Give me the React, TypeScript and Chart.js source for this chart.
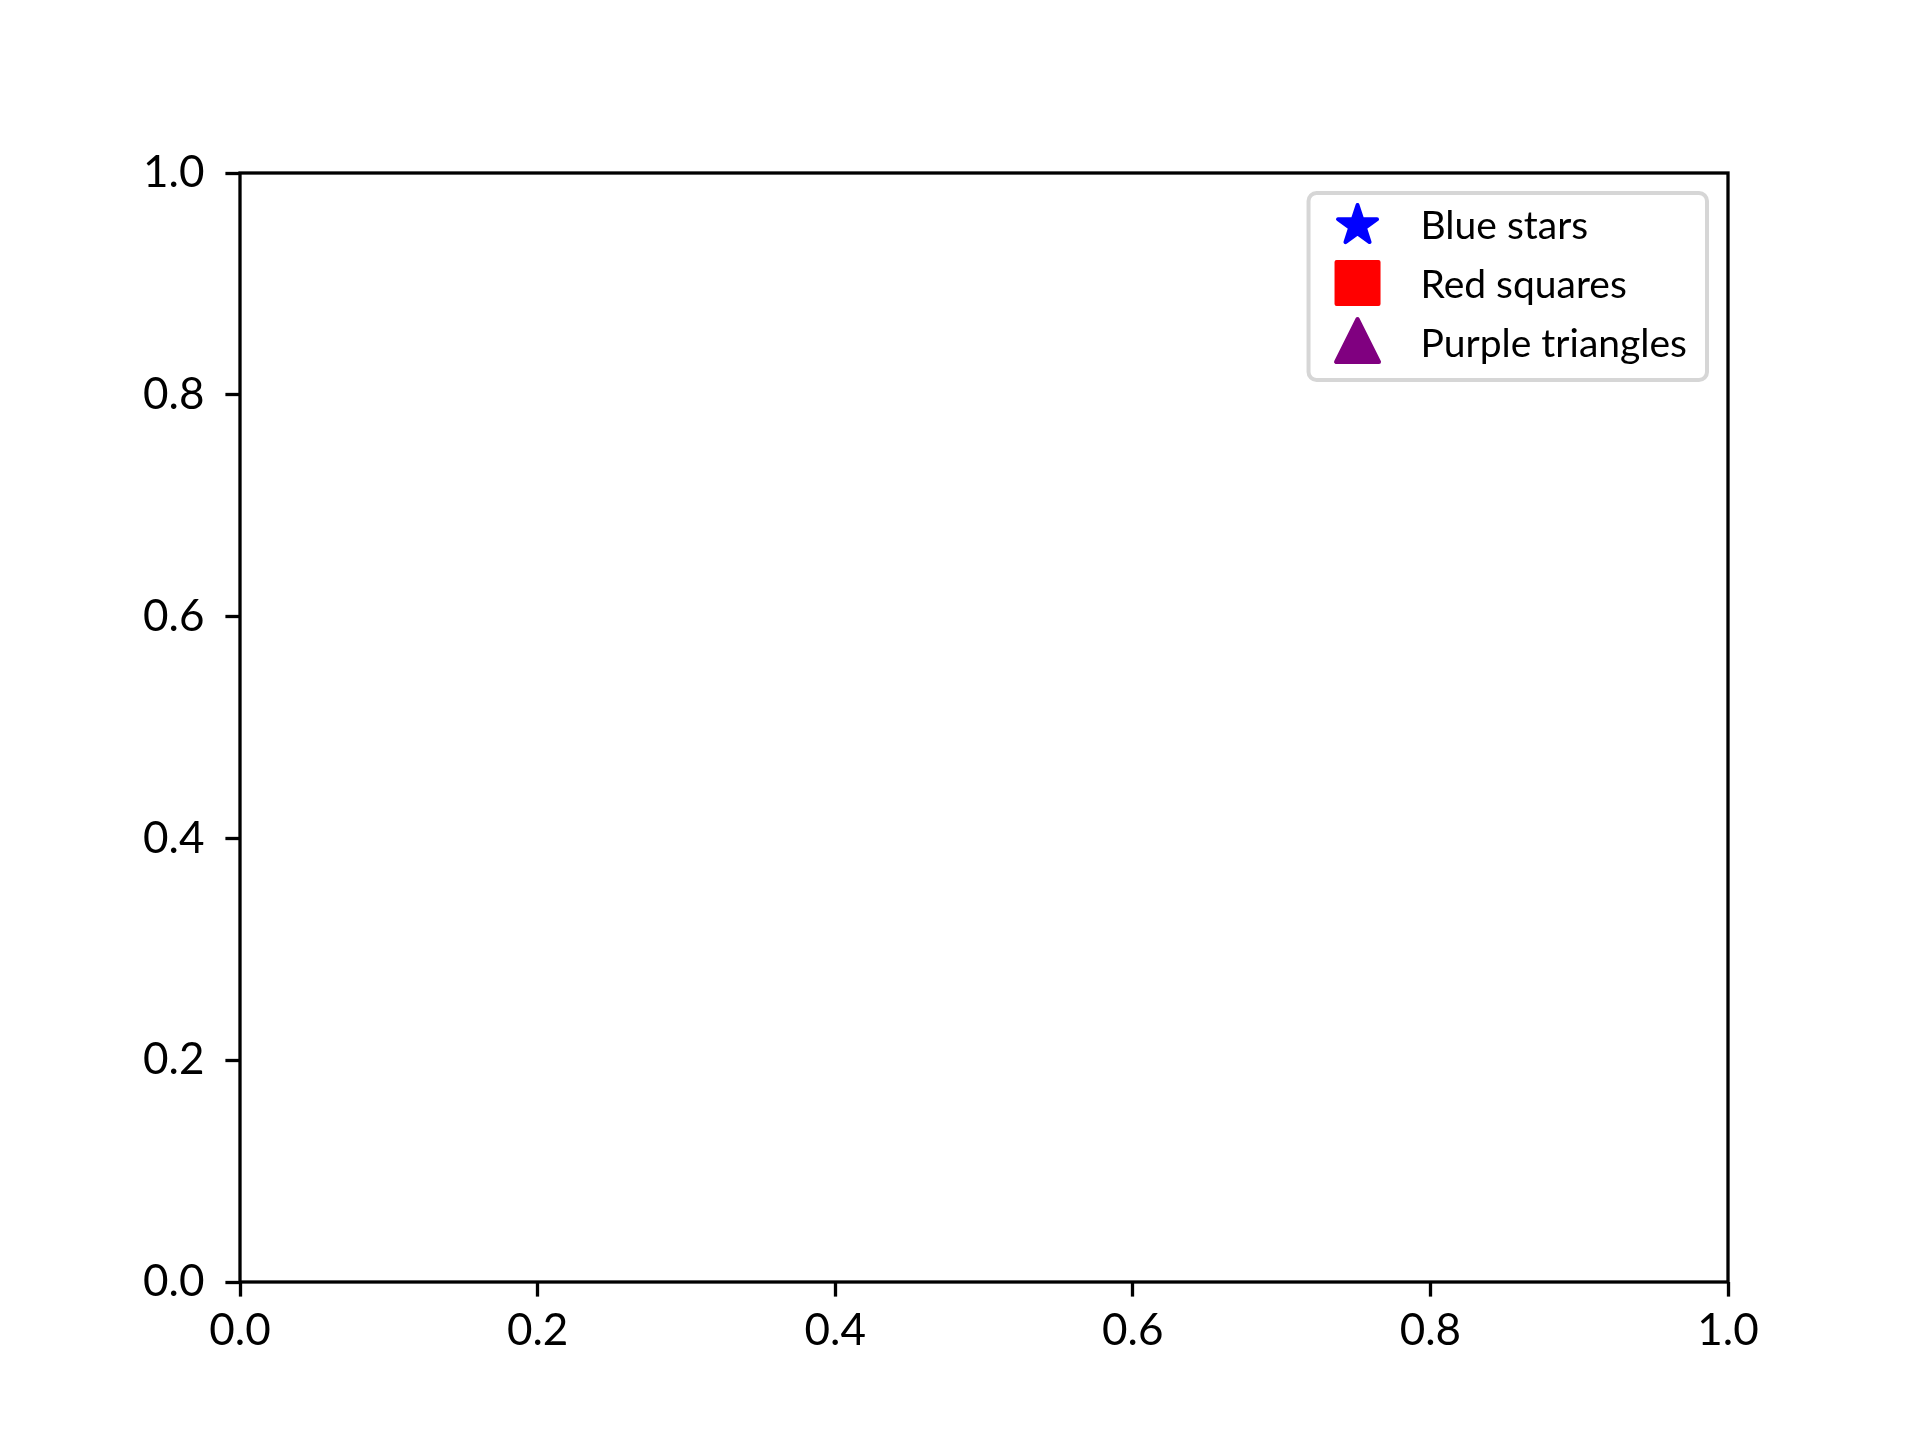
import React, { useEffect, useRef } from "react";
import { Chart, registerables, Plugin } from "chart.js";

Chart.register(...registerables);

// legend entries (the plot itself holds no points)
const seriesLabels = ["Blue stars", "Red squares", "Purple triangles"];
const seriesColors = ["#0000ff", "#ff0000", "#800080"];
const seriesMarkers = ["star", "rect", "triangle"];
const seriesValues: { x: number; y: number }[][] = [[], [], []];

const tickValues = [0, 0.2, 0.4, 0.6, 0.8, 1.0];

const FONT = "Lato, 'DejaVu Sans', sans-serif";

function drawMarker(ctx: CanvasRenderingContext2D, kind: string, cx: number, cy: number, color: string) {
  ctx.save();
  ctx.fillStyle = color;
  ctx.strokeStyle = color;
  ctx.lineWidth = 4;
  ctx.lineJoin = "round";
  ctx.beginPath();
  if (kind === "star") {
    const R = 20.5;
    const r = R * 0.381966;
    for (let i = 0; i < 10; i++) {
      const rad = i % 2 === 0 ? R : r;
      const a = -Math.PI / 2 + (i * Math.PI) / 5;
      const px = cx + rad * Math.cos(a);
      const py = cy + rad * Math.sin(a);
      if (i === 0) ctx.moveTo(px, py);
      else ctx.lineTo(px, py);
    }
  } else if (kind === "rect") {
    const h = 21;
    ctx.rect(cx - h, cy - h, 2 * h, 2 * h);
  } else {
    const h = 21.5;
    ctx.moveTo(cx, cy - h);
    ctx.lineTo(cx - h, cy + h);
    ctx.lineTo(cx + h, cy + h);
  }
  ctx.closePath();
  ctx.fill();
  ctx.stroke();
  ctx.restore();
}

// axes box + legend drawn inside the plot area, like matplotlib
const framePlugin: Plugin = {
  id: "frame",
  afterDraw(chart) {
    const { ctx, chartArea } = chart;
    ctx.save();
    ctx.strokeStyle = "#000";
    ctx.lineWidth = 3.3;
    ctx.strokeRect(chartArea.left, chartArea.top, chartArea.right - chartArea.left, chartArea.bottom - chartArea.top);

    ctx.font = `39px ${FONT}`;
    const labels = chart.data.datasets.map((d) => String(d.label));
    const maxW = Math.max(...labels.map((l) => ctx.measureText(l).width));
    const boxW = 112 + maxW + 20;
    const boxH = 187;
    const right = chartArea.right - 21;
    const top = chartArea.top + 20;
    const left = right - boxW;

    ctx.beginPath();
    ctx.roundRect(left, top, boxW, boxH, 8);
    ctx.fillStyle = "rgba(255,255,255,0.8)";
    ctx.fill();
    ctx.lineWidth = 4;
    ctx.strokeStyle = "#d6d6d6";
    ctx.stroke();

    chart.data.datasets.forEach((d, i) => {
      const cy = top + 32.5 + i * 57.5;
      drawMarker(ctx, seriesMarkers[i], left + 49, cy, seriesColors[i]);
      ctx.fillStyle = "#000";
      ctx.textAlign = "left";
      ctx.textBaseline = "alphabetic";
      ctx.fillText(String(d.label), left + 112, top + 46 + i * 59);
    });
    ctx.restore();
  },
};

const App: React.FC = () => {
  const canvasRef = useRef<HTMLCanvasElement>(null);

  useEffect(() => {
    if (!canvasRef.current) return;
    const tickFont = { family: FONT, size: 44 };

    const chart = new Chart(canvasRef.current, {
      type: "scatter",
      data: {
        datasets: seriesLabels.map((label, i) => ({
          label,
          data: seriesValues[i],
          backgroundColor: seriesColors[i],
          borderColor: seriesColors[i],
        })),
      },
      options: {
        responsive: false,
        animation: false,
        devicePixelRatio: 1,
        layout: { padding: { top: 173, right: 192, left: 0, bottom: 0 } },
        plugins: { legend: { display: false }, tooltip: { enabled: false } },
        scales: {
          x: {
            type: "linear",
            min: 0,
            max: 1,
            afterBuildTicks: (scale) => {
              scale.ticks = tickValues.map((v) => ({ value: v }));
            },
            afterFit: (scale) => {
              scale.height = 158;
            },
            border: { display: false },
            grid: {
              drawOnChartArea: false,
              drawTicks: true,
              tickLength: 14.6,
              tickWidth: 3.3,
              tickColor: "#000",
            },
            ticks: {
              autoSkip: false,
              maxRotation: 0,
              padding: 8,
              color: "#000",
              font: tickFont,
              callback: (v) => Number(v).toFixed(1),
            },
          },
          y: {
            type: "linear",
            min: 0,
            max: 1,
            afterBuildTicks: (scale) => {
              scale.ticks = tickValues.map((v) => ({ value: v }));
            },
            afterFit: (scale) => {
              scale.width = 240;
            },
            border: { display: false },
            grid: {
              drawOnChartArea: false,
              drawTicks: true,
              tickLength: 14.6,
              tickWidth: 3.3,
              tickColor: "#000",
            },
            ticks: {
              autoSkip: false,
              padding: 21,
              color: "#000",
              font: tickFont,
              callback: (v) => Number(v).toFixed(1),
            },
          },
        },
      },
      plugins: [framePlugin],
    });

    return () => {
      chart.destroy();
    };
  }, []);

  return (
    <div style={{ position: "absolute", left: 0, top: 0, width: 1920, height: 1440, background: "#fff" }}>
      <canvas ref={canvasRef} width={1920} height={1440} />
    </div>
  );
};

export default App;
